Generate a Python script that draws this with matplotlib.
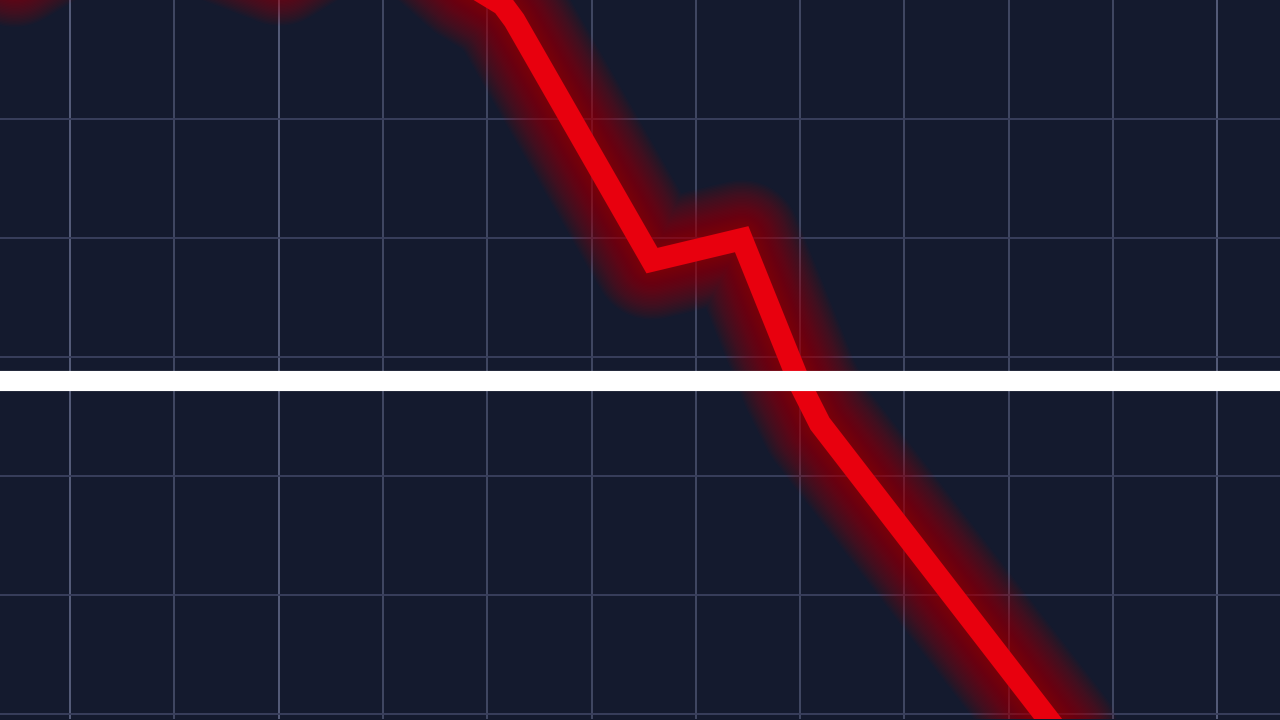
import matplotlib
matplotlib.use("Agg")
import matplotlib.pyplot as plt
import numpy as np

# grid units: vertical grid every 1 in x, horizontal grid every 1 in y
trend_x = [-0.86, -0.53, 0.48, 2.01, 2.97, 3.83, 4.15, 4.26, 5.58, 6.44, 7.0, 7.19, 9.49]
trend_y = [6.5, 6.27, 6.8, 6.28, 6.8, 6.13, 5.96, 5.83, 3.81, 3.99, 2.77, 2.44, -0.17]
baseline = 2.8

grid_x = np.arange(0, 12)
grid_y = np.arange(0, 6)

BG = "#141a2e"
W, H, M = 1280, 720, 100   # output size and hidden margin (px)

# draw on a bigger canvas so the off-frame part of the line still glows
fig = plt.figure(figsize=((W + 2 * M) / 100, (H + 2 * M) / 100), dpi=100, facecolor=BG)
ax = fig.add_axes([M / (W + 2 * M), M / (H + 2 * M), W / (W + 2 * M), H / (H + 2 * M)])
ax.set_facecolor(BG)
ax.set_xlim(-70 / 104.3, (W - 70) / 104.3)
ax.set_ylim(-5 / 119, 715 / 119)
ax.axis("off")

# grid
for gx in grid_x:
    c = "#555c7a" if gx in (0, 2, 11) else "#414863"
    ax.axvline(gx, color=c, lw=1.4, zorder=1)
for gy in grid_y:
    ax.axhline(gy, color="#393f5c", lw=1.4, zorder=1)

# glow around red line
for w in np.linspace(85, 17, 34):
    ax.plot(trend_x, trend_y, color="#b0000a", lw=w, alpha=0.035,
            solid_capstyle="round", solid_joinstyle="round", zorder=2)

ax.plot(trend_x, trend_y, color="#e8000e", lw=16,
        solid_capstyle="round", solid_joinstyle="miter", zorder=3)

# white reference line
ax.axhline(baseline, color="#ffffff", lw=14.5, zorder=4)

fig.canvas.draw()
img = np.asarray(fig.canvas.buffer_rgba())
plt.imsave("out.png", img[M:M + H, M:M + W])
